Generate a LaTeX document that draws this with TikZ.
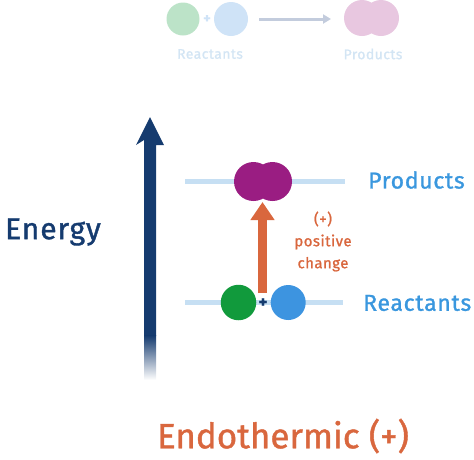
\documentclass[tikz,border=0pt]{standalone}
\usepackage{fontspec}
\setmainfont{Fira Sans}[FakeBold=1.2]
\newfontfamily\din{Fira Sans}[FakeBold=1.2, LetterSpace=3]
\usetikzlibrary{arrows.meta}
\definecolor{navy}{HTML}{153B6F}
\definecolor{lblue}{HTML}{3A97DE}
\definecolor{bar}{HTML}{C6DFF3}
\definecolor{purp}{HTML}{9A1D82}
\definecolor{grn}{HTML}{119A3C}
\definecolor{bcirc}{HTML}{3D94E0}
\definecolor{orng}{HTML}{D9673E}
\definecolor{fgrn}{HTML}{BCE3C8}
\definecolor{fblue}{HTML}{CFE3F7}
\definecolor{fpink}{HTML}{E8C7E0}
\definecolor{farrow}{HTML}{C3CCDD}
\definecolor{ftext}{HTML}{D3E5F4}
\tikzset{
  ball/.style={circle, inner sep=0pt, minimum size=#1},
  lbl/.style={inner sep=0pt, anchor=west},
  levelbar/.style={bar, line width=5pt},
}
\begin{document}
\begin{tikzpicture}[x=1pt,y=-1pt]
\useasboundingbox (0,0) rectangle (474,459);
% faded top scheme
\node[ball=33pt, fill=fgrn] (tg) at (183,19) {};
\node[ball=34pt, fill=fblue] (tb) at (231,19) {};
\node[inner sep=0pt, text=fblue, font=\fontsize{14}{14}\selectfont\bfseries] (tplus) at (207,19) {+};
\node[ball=36pt, fill=fpink] (tp1) at (362,18) {};
\node[ball=36pt, fill=fpink] (tp2) at (381,18) {};
\draw[farrow, line width=3pt, -{Triangle[width=9pt,length=8pt]}] (tb.east) ++(11,0) coordinate (ta1) -- (331,19) coordinate (ta2);
\node[text=ftext, font=\din\fontsize{14}{14}\selectfont] (treac) at (210,54) {Reactants};
\node[text=ftext, font=\din\fontsize{14}{14}\selectfont] (tprod) at (373,54) {Products};
% energy arrow
\coordinate (etop) at (150,117);
\coordinate (ebot) at (150,380);
\fill[navy] (144,140) -- (136,145) -- (etop) -- (164,145) -- (156,145) -- (156,336) -- (144,336) -- cycle;
\shade[top color=navy, bottom color=white] (144,335.5) rectangle (156,380);
\node[text=navy, font=\din\fontsize{30}{30}\selectfont, anchor=center] (energy) at (53,232) {Energy};
% level bars
\coordinate (pl) at (185,181); \coordinate (pr) at (345,181);
\coordinate (rl) at (185,302); \coordinate (rr) at (343,302);
\draw[levelbar] (pl) -- (pr);
\draw[levelbar] (rl) -- (rr);
% products molecule
\node[ball=39pt, fill=purp] (p1) at (253.5,181.5) {};
\node[ball=39pt, fill=purp] (p2) at (272.5,181.5) {};
% reactants
\node[ball=35.5pt, fill=grn] (rg) at (238.5,302.5) {};
\node[ball=35pt, fill=bcirc] (rb) at (288.2,302.5) {};
\node[inner sep=0pt, text=navy, font=\fontsize{17}{17}\selectfont\bfseries] (rplus) at (263,303) {+};
% orange arrow
\coordinate (oa) at (262.5,293);
\coordinate (ob) at (262.5,202);
\draw[orng, line width=9pt, -{Triangle[width=23pt,length=18pt]}] (oa) -- (ob);
\node[text=orng, font=\din\fontsize{15}{22}\selectfont, align=center] (change) at (323,241.5) {(+)\\positive\\change};
% labels
\node[lbl, text=lblue, font=\din\fontsize{23}{23}\selectfont] (prod) at (368,180) {Products};
\node[lbl, text=lblue, font=\din\fontsize{23}{23}\selectfont] (reac) at (363,303) {Reactants};
\node[text=orng, font=\fontsize{35}{35}\selectfont] (endo) at (283,436) {Endothermic (+)};
\end{tikzpicture}
\end{document}
